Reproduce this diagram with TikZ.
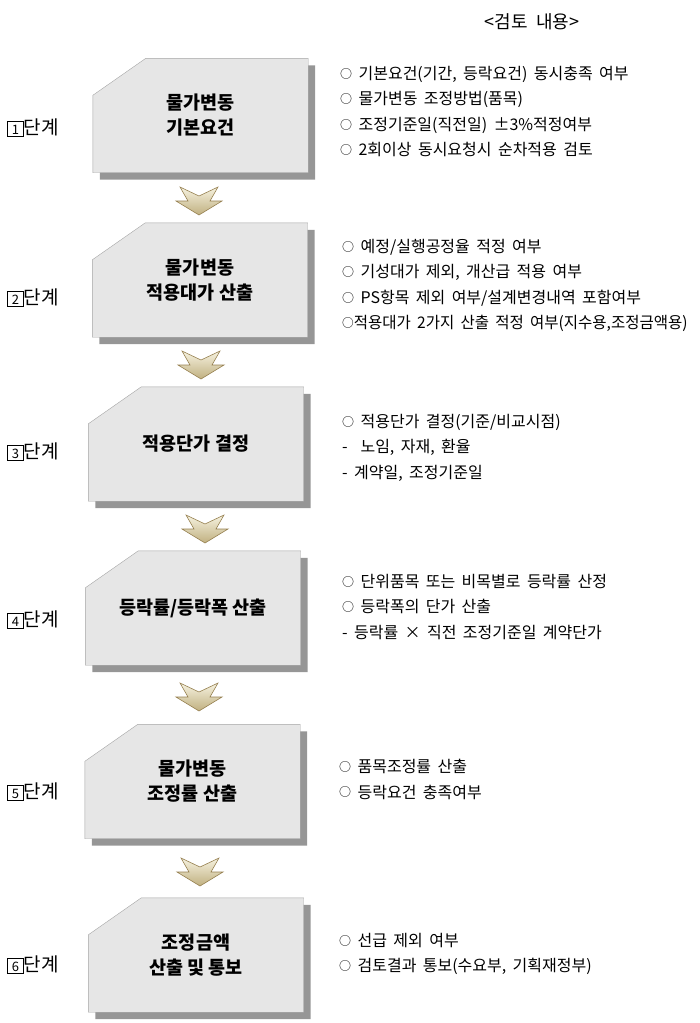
\documentclass[tikz,border=0pt]{standalone}
\usepackage{fontspec}
\usepackage{graphicx}
\setmainfont{Noto Sans CJK KR}
\usetikzlibrary{calc,backgrounds}

\definecolor{boxfill}{RGB}{230,230,230}
\definecolor{boxline}{RGB}{165,165,165}
\definecolor{boxshade}{RGB}{150,150,150}
\definecolor{chevtop}{RGB}{246,242,224}
\definecolor{chevbot}{RGB}{192,176,128}
\definecolor{chevline}{RGB}{150,128,80}

\newcommand{\stagenum}[1]{{\setlength{\fboxsep}{0pt}\setlength{\fboxrule}{0.7pt}\fbox{\raisebox{0pt}[13.5pt][1.5pt]{\makebox[15pt]{\fontsize{13}{13}\selectfont #1}}}}}
\newcommand{\listtext}{\fontsize{16}{25.5}\selectfont\spaceskip=0.4em\relax}
\newcommand{\headtext}{\fontsize{18}{20}\selectfont\spaceskip=0.45em\relax}
\newcommand{\bul}{\raisebox{1.3pt}{\fontsize{12}{12}\selectfont ○}}

\begin{document}
\begin{tikzpicture}[x=1pt,y=-1pt,
  stagebox/.style={minimum width=215pt, minimum height=114pt, inner sep=0pt, align=center, font=\fontsize{18.5}{25}\selectfont\bfseries},
  stagelabel/.style={anchor=west, inner sep=0pt, font=\fontsize{19}{20}\selectfont},
  checklist/.style={anchor=north west, inner sep=0pt, align=left, font=\listtext},
  chev/.pic={\draw[chevline, line width=0.6pt, top color=chevtop, bottom color=chevbot]
    (-19,-14) -- (0,-5) -- (19,-14) -- (11,0) -- (23,0) -- (0,14) -- (-23,0) -- (-11,0) -- cycle;}]
\useasboundingbox (0,0) rectangle (700,1023);

\node[font=\headtext] (head) at (532,22) {<검토 내용>};

% steps
\node[stagebox] (b1) at (200.5,115.5) {물가변동\\기본요건};
\node[stagebox] (b2) at (200,280) {물가변동\\적용대가 산출};
\node[stagebox] (b3) at (196,444) {적용단가 결정};
\node[stagebox] (b4) at (193,608) {등락률/등락폭 산출};
\node[stagebox] (b5) at (192.5,781.5) {물가변동\\조정률 산출};
\node[stagebox] (b6) at (196,955) {조정금액\\산출 및 통보};

\node[stagelabel] (s1) at (7,128) {\stagenum{1}단계};
\node[stagelabel] (s2) at (7,298) {\stagenum{2}단계};
\node[stagelabel] (s3) at (7,452) {\stagenum{3}단계};
\node[stagelabel] (s4) at (7,620) {\stagenum{4}단계};
\node[stagelabel] (s5) at (7,792) {\stagenum{5}단계};
\node[stagelabel] (s6) at (7,965) {\stagenum{6}단계};

% review items
\node[checklist] (t1) at (340,66) {\bul\ 기본요건(기간, 등락요건) 동시충족 여부\\\bul\ 물가변동 조정방법(품목)\\\bul\ 조정기준일(직전일) ±3\%적정여부\\\bul\ 2회이상 동시요청시 순차적용 검토};
\node[checklist] (t2) at (342,239) {\bul\ 예정/실행공정율 적정 여부\\\bul\ 기성대가 제외, 개산급 적용 여부\\\bul\ PS항목 제외 여부/설계변경내역 포함여부\\\scalebox{0.97}[1]{\bul{}적용대가 2가지 산출 적정 여부(지수용,조정금액용)}};
\node[checklist] (t3) at (342,414) {\bul\ 적용단가 결정(기준/비교시점)\\ -\ \ 노임, 자재, 환율\\ - 계약일, 조정기준일};
\node[checklist] (t4) at (342,574) {\bul\ 단위품목 또는 비목별로 등락률 산정\\\bul\ 등락폭의 단가 산출\\ - 등락률 × 직전 조정기준일 계약단가};
\node[checklist] (t5) at (339,759) {\bul\ 품목조정률 산출\\\bul\ 등락요건 충족여부};
\node[checklist] (t6) at (339,933) {\bul\ 선급 제외 여부\\\bul\ 검토결과 통보(수요부, 기획재정부)};

\begin{scope}[on background layer]
  \foreach \i in {1,...,6} {
    \fill[boxshade] ([shift={(7pt,-7pt)}]b\i.south west) -- ([shift={(7pt,-44pt)}]b\i.north west)
      -- ([shift={(60pt,-7pt)}]b\i.north west) -- ([shift={(7pt,-7pt)}]b\i.north east)
      -- ([shift={(7pt,-7pt)}]b\i.south east) -- cycle;
    \filldraw[fill=boxfill, draw=boxline] (b\i.south west) -- ([yshift=-37pt]b\i.north west)
      -- ([xshift=53pt]b\i.north west) -- (b\i.north east) -- (b\i.south east) -- cycle;
  }
\end{scope}

\foreach \x/\y in {199/201, 201/365, 205/529, 199/697, 200/872}
  \pic at (\x,\y) {chev};
\end{tikzpicture}
\end{document}
